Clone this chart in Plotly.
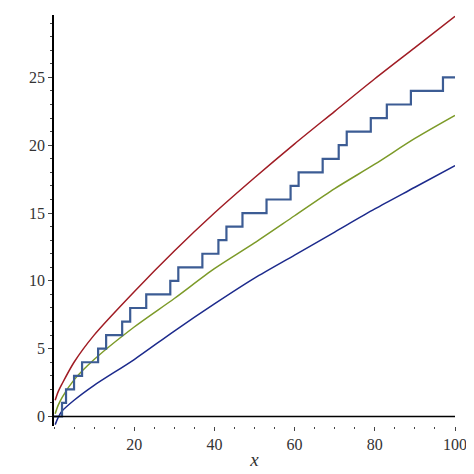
import plotly.graph_objects as go

x_curve = [0.3, 1, 2, 5, 10, 20, 30, 40, 50, 60, 70, 80, 90, 100]
red_y = [1.2, 1.8, 2.4, 4.0, 6.0, 9.2, 12.2, 15.0, 17.6, 20.1, 22.5, 24.9, 27.2, 29.5]
green_y = [0.2, 0.8, 1.4, 2.7, 4.2, 6.6, 8.7, 10.9, 12.8, 14.8, 16.8, 18.6, 20.5, 22.2]
blue_y = [-0.6, -0.1, 0.4, 1.2, 2.3, 4.2, 6.3, 8.3, 10.2, 11.9, 13.6, 15.3, 16.9, 18.5]

step_x = [0, 2, 3, 5, 7, 11, 13, 17, 19, 23, 29, 31, 37, 41, 43, 47, 53, 59, 61, 67,
          71, 73, 79, 83, 89, 97, 100]
step_y = [0, 1, 2, 3, 4, 5, 6, 7, 8, 9, 10, 11, 12, 13, 14, 15, 16, 17, 18, 19,
          20, 21, 22, 23, 24, 25, 25]

fig = go.Figure()
fig.add_trace(go.Scatter(x=x_curve, y=red_y, mode="lines", line=dict(color="#a01c24", width=1.5, shape="spline", smoothing=0.8)))
fig.add_trace(go.Scatter(x=x_curve, y=green_y, mode="lines", line=dict(color="#7c9a28", width=1.5, shape="spline", smoothing=0.8)))
fig.add_trace(go.Scatter(x=x_curve, y=blue_y, mode="lines", line=dict(color="#1c2a8c", width=1.5, shape="spline", smoothing=0.8)))
fig.add_trace(go.Scatter(x=step_x, y=step_y, mode="lines", line=dict(color="#3c5c94", width=2.2, shape="hv")))

fig.update_layout(
    width=466, height=466, showlegend=False,
    plot_bgcolor="white", paper_bgcolor="white",
    margin=dict(l=46, r=14, t=7, b=40),
    font=dict(family="Liberation Serif", size=16, color="#333"),
)
fig.update_xaxes(range=[0, 100], showgrid=False, zeroline=False, showline=False,
                 ticks="outside", ticklen=4, tickvals=[20, 40, 60, 80, 100],
                 minor=dict(ticks="outside", ticklen=2, dtick=5),
                 title=dict(text="<i>x</i>", standoff=0))
fig.update_yaxes(range=[-0.7, 29.6], showgrid=False, zeroline=False, showline=True,
                 linecolor="black", linewidth=1.5, ticks="outside", ticklen=4,
                 tickvals=[0, 5, 10, 15, 20, 25],
                 minor=dict(ticks="outside", ticklen=2, dtick=1))
fig.add_hline(y=0, line=dict(color="black", width=1.5))

fig.write_html("out.html")
